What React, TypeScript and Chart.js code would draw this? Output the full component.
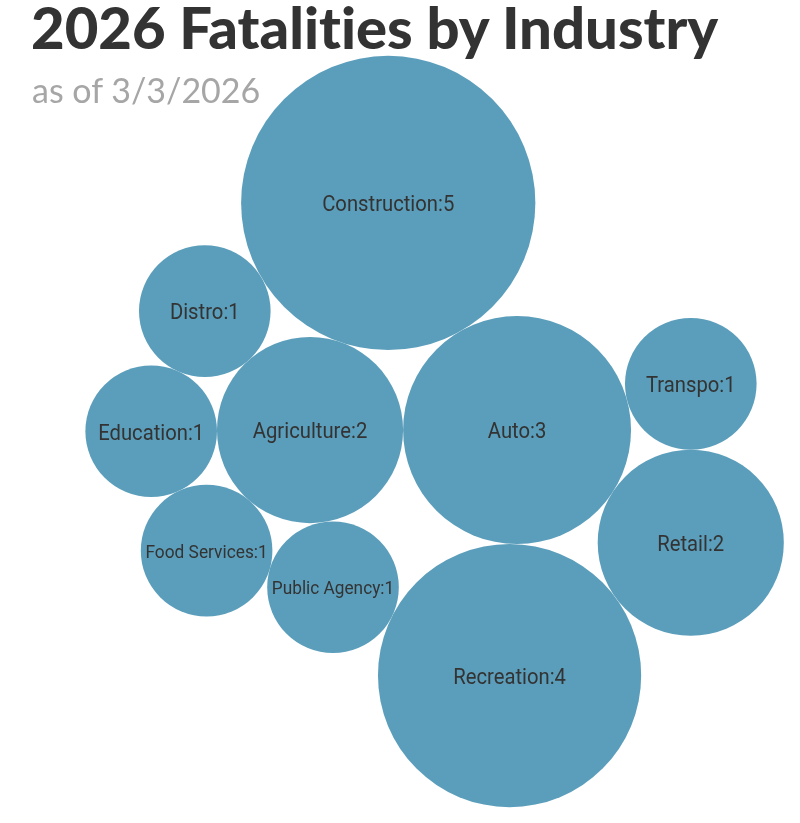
import React, { useEffect, useRef } from 'react';
import { Chart, registerables } from 'chart.js';

Chart.register(...registerables);

// ---- Data ----
const industries = [
  'Agriculture',
  'Auto',
  'Construction',
  'Distro',
  'Education',
  'Food Services',
  'Public Agency',
  'Recreation',
  'Retail',
  'Transpo',
];
const fatalities = [2, 3, 5, 1, 1, 1, 1, 4, 2, 1];

const TITLE = '2026 Fatalities by Industry';
const SUBTITLE = 'as of 3/3/2026';

// ---- Layout / style constants ----
const W = 800;
const H = 823;
const CENTER_X = 434.6;
const CENTER_Y = 431.5;
const PX_PER_UNIT = 65.8;
const BUBBLE_COLOR = '#5b9ebb';
const LABEL_COLOR = '#333333';
const LABEL_FONT_SIZE = 22;
const LABEL_SCALE_X = 0.92;

// ---- Circle packing (front-chain sibling packing, d3 v3 style) ----
type PNode = { r: number; x: number; y: number; next: PNode; prev: PNode };

function place(a: PNode, b: PNode, c: PNode) {
  let db = a.r + c.r;
  const dx = b.x - a.x;
  const dy = b.y - a.y;
  if (db && (dx || dy)) {
    let da = b.r + c.r;
    const dc = dx * dx + dy * dy;
    da *= da;
    db *= db;
    const x = 0.5 + (db - da) / (2 * dc);
    const y = Math.sqrt(Math.max(0, 2 * da * (db + dc) - (db - dc) * (db - dc) - da * da)) / (2 * dc);
    c.x = a.x + x * dx + y * dy;
    c.y = a.y + x * dy - y * dx;
  } else {
    c.x = a.x + db;
    c.y = a.y;
  }
}
function intersects(a: PNode, b: PNode) {
  const dx = b.x - a.x;
  const dy = b.y - a.y;
  const dr = a.r + b.r;
  return 0.999 * dr * dr > dx * dx + dy * dy;
}
function insert(a: PNode, b: PNode) {
  const c = a.next;
  a.next = b;
  b.prev = a;
  b.next = c;
  c.prev = b;
}
function splice(a: PNode, b: PNode) {
  a.next = b;
  b.prev = a;
}

function packLayout(values: number[]) {
  const nodes: PNode[] = values.map((v) => {
    const n = { r: Math.sqrt(v), x: 0, y: 0 } as PNode;
    n.next = n;
    n.prev = n;
    return n;
  });
  let xMin = Infinity, xMax = -Infinity, yMin = Infinity, yMax = -Infinity;
  const bound = (n: PNode) => {
    xMin = Math.min(n.x - n.r, xMin);
    xMax = Math.max(n.x + n.r, xMax);
    yMin = Math.min(n.y - n.r, yMin);
    yMax = Math.max(n.y + n.r, yMax);
  };
  const count = nodes.length;
  let a = nodes[0];
  a.x = -a.r;
  a.y = 0;
  bound(a);
  if (count > 1) {
    let b = nodes[1];
    b.x = b.r;
    b.y = 0;
    bound(b);
    if (count > 2) {
      let c = nodes[2];
      place(a, b, c);
      bound(c);
      insert(a, c);
      a.prev = c;
      insert(c, b);
      b = a.next;
      for (let i = 3; i < count; i++) {
        c = nodes[i];
        place(a, b, c);
        let isect = 0, s1 = 1, s2 = 1;
        let j: PNode = b.next;
        let k: PNode = a.prev;
        for (j = b.next; j !== b; j = j.next, s1++) {
          if (intersects(j, c)) {
            isect = 1;
            break;
          }
        }
        if (isect === 1) {
          for (k = a.prev; k !== j.prev; k = k.prev, s2++) {
            if (intersects(k, c)) break;
          }
        }
        if (isect) {
          if (s1 < s2 || (s1 === s2 && b.r < a.r)) {
            b = j;
            splice(a, b);
          } else {
            a = k;
            splice(a, b);
          }
          i--;
        } else {
          insert(a, c);
          b = c;
          bound(c);
        }
      }
    }
  }
  const cx = (xMin + xMax) / 2;
  const cy = (yMin + yMax) / 2;
  return nodes.map((n) => ({ x: n.x - cx, y: n.y - cy, size: n.r }));
}

export default function App() {
  const canvasRef = useRef<HTMLCanvasElement>(null);

  useEffect(() => {
    const canvas = canvasRef.current;
    if (!canvas) return;
    const layout = packLayout(fatalities);
    const points = layout.map((p, i) => ({
      x: p.x,
      y: p.y,
      size: p.size,
      label: industries[i],
      value: fatalities[i],
    }));

    // pixel radius of a bubble, taken from the x scale (data units -> pixels)
    const radiusPx = (chart: any, idx: number) => {
      const p = points[idx];
      if (!p) return 0;
      const s = chart && chart.scales ? chart.scales.x : null;
      let px = NaN;
      if (s && typeof s.getPixelForValue === 'function') {
        px = s.getPixelForValue(p.size) - s.getPixelForValue(0);
      }
      return Number.isFinite(px) && px > 0 ? px : p.size * PX_PER_UNIT;
    };

    const labelPlugin = {
      id: 'bubbleLabels',
      afterDatasetsDraw(chart: any) {
        const ctx: CanvasRenderingContext2D = chart.ctx;
        const meta = chart.getDatasetMeta(0);
        meta.data.forEach((el: any, i: number) => {
          const p = points[i];
          const text = `${p.label}:${p.value}`;
          const r = radiusPx(chart, i);
          let fs = LABEL_FONT_SIZE;
          ctx.save();
          ctx.font = `400 ${fs}px Roboto, "Liberation Sans", sans-serif`;
          const natural = ctx.measureText(text).width * LABEL_SCALE_X;
          const maxW = 2 * r * 0.93;
          if (natural > maxW) {
            fs = fs * (maxW / natural);
            ctx.font = `400 ${fs}px Roboto, "Liberation Sans", sans-serif`;
          }
          ctx.fillStyle = LABEL_COLOR;
          ctx.textAlign = 'center';
          ctx.textBaseline = 'alphabetic';
          ctx.translate(el.x, el.y + (fs * 0.711) / 2 + 0.5);
          ctx.scale(LABEL_SCALE_X, 1);
          ctx.fillText(text, 0, 0);
          ctx.restore();
        });
      },
    };

    const chart = new Chart(canvas, {
      type: 'bubble',
      data: {
        datasets: [
          {
            data: points as any,
            backgroundColor: BUBBLE_COLOR,
            borderWidth: 0,
            hoverBorderWidth: 0,
            radius: (c: any) => radiusPx(c.chart, c.dataIndex),
            hoverRadius: 0,
            clip: false,
          } as any,
        ],
      },
      options: {
        animation: false,
        responsive: false,
        maintainAspectRatio: false,
        events: [],
        layout: { padding: 0, autoPadding: false },
        plugins: {
          legend: { display: false },
          tooltip: { enabled: false },
          title: { display: false },
        },
        scales: {
          x: {
            type: 'linear',
            display: false,
            bounds: 'data',
            min: -CENTER_X / PX_PER_UNIT,
            max: (W - CENTER_X) / PX_PER_UNIT,
          },
          y: {
            type: 'linear',
            display: false,
            bounds: 'data',
            reverse: true,
            min: -CENTER_Y / PX_PER_UNIT,
            max: (H - CENTER_Y) / PX_PER_UNIT,
          },
        },
      },
      plugins: [labelPlugin],
    });
    return () => chart.destroy();
  }, []);

  return (
    <div
      style={{
        position: 'absolute',
        left: 0,
        top: 0,
        width: W,
        height: H,
        overflow: 'hidden',
        background: '#ffffff',
      }}
    >
      <canvas
        ref={canvasRef}
        width={W}
        height={H}
        style={{ position: 'absolute', left: 0, top: 0, width: W, height: H }}
      />
      <div
        style={{
          position: 'absolute',
          left: 31,
          top: -2,
          fontFamily: 'Lato, "Noto Sans", sans-serif',
          fontWeight: 900,
          fontSize: 58,
          lineHeight: 1,
          color: '#333333',
          whiteSpace: 'nowrap',
          fontVariantLigatures: 'none',
        }}
      >
        {TITLE}
      </div>
      <div
        style={{
          position: 'absolute',
          left: 32,
          top: 73,
          fontFamily: 'Lato, "Noto Sans", sans-serif',
          fontWeight: 400,
          fontSize: 34,
          lineHeight: 1,
          color: '#a6a6a6',
          whiteSpace: 'nowrap',
          fontVariantLigatures: 'none',
        }}
      >
        {SUBTITLE}
      </div>
    </div>
  );
}
